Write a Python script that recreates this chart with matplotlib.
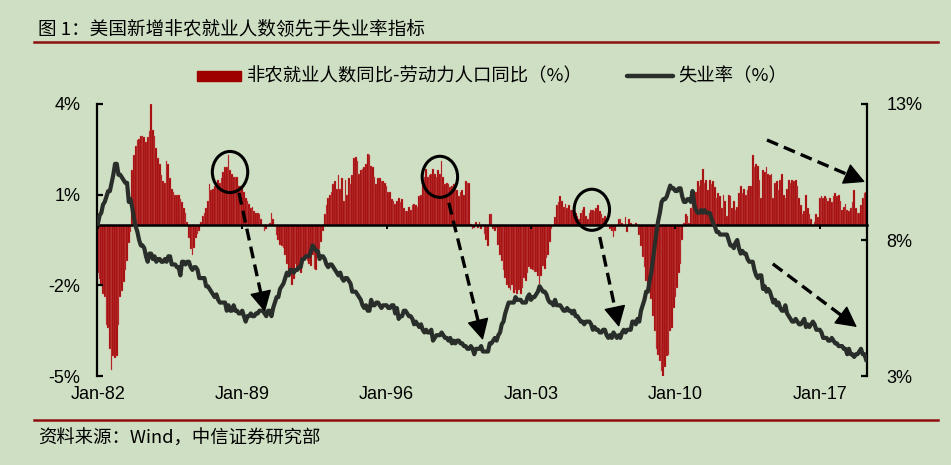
import numpy as np
import matplotlib
matplotlib.use("Agg")
import matplotlib.pyplot as plt
from matplotlib.patches import Ellipse, Rectangle
from matplotlib.lines import Line2D

# ---------------- data (monthly, Jan-1982 .. Apr-2019) ----------------
gap_yoy = [  # 非农就业人数同比 - 劳动力人口同比 (%)
    -1.6, -1.8, -1.95, -2.3, -2.4, -3.3, -3.4, -4.1, -4.8, -4.35, -4.4, -4.35,   # 1982
    -3.3, -2.4, -2.2, -1.9, -1.5, -1.2, -0.6, -0.25, 1.8, 2.3, 2.6, 2.8,          # 1983
    2.85, 2.95, 2.95, 2.9, 2.75, 2.9, 3.1, 4.0, 3.15, 2.95, 2.55, 2.2,            # 1984
    2.0, 1.65, 1.45, 1.4, 2.1, 2.0, 1.55, 1.2, 1.1, 1.0, 1.0, 1.0,                # 1985
    0.85, 0.75, 0.55, 0.4, 0.1, -0.45, -0.8, -1.0, -0.75, -0.45, -0.3, -0.2,      # 1986
    0.1, 0.3, 0.4, 0.55, 0.8, 1.35, 1.15, 1.2, 1.3, 1.4, 1.5, 1.4,                # 1987
    1.55, 1.75, 1.9, 1.9, 2.3, 1.8, 1.7, 1.6, 1.6, 1.6, 1.3, 1.3,                 # 1988
    1.25, 1.1, 0.9, 0.8, 0.7, 0.55, 0.6, 0.45, 0.4, 0.4, 0.35, 0.2,               # 1989
    -0.05, -0.2, -0.15, -0.05, 0.05, 0.4, 0.2, -0.05, -0.35, -0.5, -0.65, -0.7,   # 1990
    -0.75, -1.0, -1.3, -1.5, -1.65, -2.0, -1.8, -1.3, -1.45, -1.5, -1.6, -1.3,    # 1991
    -1.1, -1.1, -1.2, -1.3, -1.35, -1.0, -1.45, -1.5, -1.0, -0.8, -0.55, -0.2,    # 1992
    0.35, 0.65, 0.9, 1.0, 1.1, 1.35, 1.45, 1.2, 1.65, 1.2, 1.55, 0.8,             # 1993
    1.5, 1.0, 1.55, 1.35, 1.65, 2.2, 2.25, 2.1, 1.7, 1.8, 1.85, 1.9,              # 1994
    2.0, 2.35, 2.3, 1.95, 1.9, 1.6, 1.35, 1.55, 1.55, 1.45, 1.45, 1.4,            # 1995
    1.3, 1.1, 1.1, 0.85, 0.8, 0.7, 0.8, 0.9, 0.75, 0.85, 0.55, 0.45,              # 1996
    0.45, 0.6, 0.5, 0.65, 0.7, 0.65, 0.6, 0.95, 1.0, 1.45, 1.6, 1.85,             # 1997
    1.6, 1.65, 1.7, 1.85, 1.7, 1.6, 1.8, 1.7, 2.1, 1.6, 1.35, 1.4,                # 1998
    1.35, 1.25, 1.3, 1.35, 1.4, 1.15, 0.95, 1.1, 1.15, 1.0, 1.45, 1.4,            # 1999
    1.4, 0.02, -0.15, -0.1, 0.1, -0.1, 0.1, -0.15, -0.05, -0.3, -0.5, -0.7,       # 2000
    0.35, 0.35, -0.15, -0.2, -0.1, -0.65, -1.0, -1.2, -1.5, -1.75, -2.0, -2.1,    # 2001
    -2.15, -2.0, -2.25, -2.15, -2.3, -2.15, -2.3, -2.1, -1.75, -1.85, -1.6, -1.4, # 2002
    -1.45, -1.5, -1.55, -1.55, -1.7, -1.95, -1.7, -1.35, -1.45, -1.1, -1.0, -0.55,# 2003
    -0.15, 0.0, 0.25, 0.65, 0.75, 0.95, 0.8, 0.6, 0.7, 0.55, 0.65, 0.5,           # 2004
    0.5, 0.45, 0.4, 0.3, 0.2, 0.4, 0.5, 0.6, 0.3, 0.2, 0.4, 0.5,                  # 2005
    0.5, 0.45, 0.55, 0.65, 0.45, 0.35, 0.23, 0.28, 0.07, 0.0, -0.15, -0.2,        # 2006
    -0.4, -0.2, -0.05, 0.2, 0.18, 0.07, 0.0, 0.25, -0.25, 0.18, 0.07, 0.0,        # 2007
    0.0, 0.07, 0.0, -0.35, -0.7, -1.05, -1.4, -1.85, -1.95, -2.15, -2.45, -3.0,   # 2008
    -3.5, -4.1, -4.3, -4.5, -4.85, -5.05, -4.7, -4.35, -4.3, -3.5, -3.4, -2.75,   # 2009
    -2.4, -2.1, -1.6, -1.3, -0.5, 0.05, 0.35, 0.3, 0.05, 0.55, 0.85, 1.0,         # 2010
    1.1, 1.45, 1.3, 1.5, 1.85, 1.4, 1.5, 1.15, 1.5, 1.35, 1.45, 1.25,             # 2011
    0.9, 1.05, 0.95, 0.55, 1.0, 0.8, 0.3, 1.0, 0.95, 0.55, 0.8, 0.5,              # 2012
    0.6, 1.05, 1.3, 1.05, 1.2, 1.0, 1.15, 1.3, 1.3, 2.3, 1.9, 2.0,                # 2013
    1.95, 1.5, 0.9, 1.8, 1.75, 1.9, 1.7, 1.65, 1.7, 0.9, 1.4, 1.45,               # 2014
    1.15, 1.5, 1.7, 1.0, 0.9, 1.2, 1.5, 1.4, 1.5, 1.45, 1.5, 1.3,                 # 2015
    0.9, 0.65, 0.35, 0.45, 1.0, 0.55, 0.35, 0.2, 0.0, 0.1, 0.35, 0.25,            # 2016
    0.9, 0.95, 0.9, 0.95, 0.9, 0.8, 0.9, 0.75, 0.95, 1.05, 0.95, 1.0,             # 2017
    0.8, 0.5, 0.6, 0.7, 0.5, 0.45, 0.55, 0.75, 1.17, 0.55, 0.4, 0.4,              # 2018
    0.65, 0.9, 1.05, 1.1,                                                         # 2019
]

unemployment = [  # 失业率 (%)
    8.6, 8.9, 9.0, 9.3, 9.4, 9.6, 9.8, 9.8, 10.1, 10.4, 10.8, 10.8,   # 1982
    10.4, 10.4, 10.3, 10.2, 10.1, 10.1, 9.4, 9.5, 9.2, 8.8, 8.5, 8.3, # 1983
    8.0, 7.8, 7.8, 7.7, 7.4, 7.2, 7.5, 7.5, 7.3, 7.4, 7.2, 7.3,       # 1984
    7.3, 7.2, 7.2, 7.3, 7.2, 7.4, 7.4, 7.1, 7.1, 7.1, 7.0, 7.0,       # 1985
    6.7, 7.2, 7.2, 7.1, 7.2, 7.2, 7.0, 6.9, 7.0, 7.0, 6.9, 6.6,       # 1986
    6.6, 6.6, 6.6, 6.3, 6.3, 6.2, 6.1, 6.0, 5.9, 6.0, 5.8, 5.7,       # 1987
    5.7, 5.7, 5.7, 5.4, 5.6, 5.4, 5.4, 5.6, 5.4, 5.4, 5.3, 5.3,       # 1988
    5.4, 5.2, 5.0, 5.2, 5.2, 5.3, 5.2, 5.2, 5.3, 5.3, 5.4, 5.4,       # 1989
    5.4, 5.3, 5.2, 5.4, 5.4, 5.2, 5.5, 5.7, 5.9, 5.9, 6.2, 6.3,       # 1990
    6.4, 6.6, 6.8, 6.7, 6.9, 6.9, 6.8, 6.9, 6.9, 7.0, 7.0, 7.3,       # 1991
    7.3, 7.4, 7.4, 7.4, 7.6, 7.8, 7.7, 7.6, 7.6, 7.3, 7.4, 7.4,       # 1992
    7.3, 7.1, 7.0, 7.1, 7.1, 7.0, 6.9, 6.8, 6.7, 6.8, 6.6, 6.5,       # 1993
    6.6, 6.6, 6.5, 6.4, 6.1, 6.1, 6.1, 6.0, 5.9, 5.8, 5.6, 5.5,       # 1994
    5.6, 5.4, 5.4, 5.8, 5.6, 5.6, 5.7, 5.7, 5.6, 5.5, 5.6, 5.6,       # 1995
    5.6, 5.5, 5.5, 5.6, 5.6, 5.3, 5.5, 5.1, 5.2, 5.2, 5.4, 5.4,       # 1996
    5.3, 5.2, 5.2, 5.1, 4.9, 5.0, 4.9, 4.8, 4.9, 4.7, 4.6, 4.7,       # 1997
    4.6, 4.6, 4.7, 4.3, 4.4, 4.5, 4.5, 4.5, 4.6, 4.5, 4.4, 4.4,       # 1998
    4.3, 4.4, 4.2, 4.3, 4.2, 4.3, 4.3, 4.2, 4.2, 4.1, 4.1, 4.0,       # 1999
    4.0, 4.1, 4.0, 3.8, 4.0, 4.0, 4.0, 4.1, 3.9, 3.9, 3.9, 3.9,       # 2000
    4.2, 4.2, 4.3, 4.4, 4.3, 4.5, 4.6, 4.9, 5.0, 5.3, 5.5, 5.7,       # 2001
    5.7, 5.7, 5.7, 5.9, 5.8, 5.8, 5.8, 5.7, 5.7, 5.7, 5.9, 6.0,       # 2002
    5.8, 5.9, 5.9, 6.0, 6.1, 6.3, 6.2, 6.1, 6.1, 6.0, 5.8, 5.7,       # 2003
    5.7, 5.6, 5.8, 5.6, 5.6, 5.6, 5.5, 5.4, 5.4, 5.5, 5.4, 5.4,       # 2004
    5.3, 5.4, 5.2, 5.2, 5.1, 5.0, 5.0, 4.9, 5.0, 5.0, 5.0, 4.9,       # 2005
    4.7, 4.8, 4.7, 4.7, 4.6, 4.6, 4.7, 4.7, 4.5, 4.4, 4.5, 4.4,       # 2006
    4.6, 4.5, 4.4, 4.5, 4.4, 4.6, 4.7, 4.6, 4.7, 4.7, 4.7, 5.0,       # 2007
    5.0, 4.9, 5.1, 5.0, 5.4, 5.6, 5.8, 6.1, 6.1, 6.5, 6.8, 7.3,       # 2008
    7.8, 8.3, 8.7, 9.0, 9.4, 9.5, 9.5, 9.6, 9.8, 10.0, 9.9, 9.9,      # 2009
    9.8, 9.8, 9.9, 9.9, 9.6, 9.4, 9.4, 9.5, 9.5, 9.4, 9.8, 9.3,       # 2010
    9.1, 9.0, 9.0, 9.1, 9.0, 9.1, 9.0, 9.0, 9.0, 8.8, 8.6, 8.5,       # 2011
    8.3, 8.3, 8.2, 8.2, 8.2, 8.2, 8.2, 8.0, 7.8, 7.8, 7.7, 7.9,       # 2012
    8.0, 7.7, 7.5, 7.6, 7.5, 7.5, 7.3, 7.2, 7.2, 7.2, 6.9, 6.7,       # 2013
    6.6, 6.7, 6.7, 6.2, 6.3, 6.1, 6.2, 6.1, 5.9, 5.7, 5.8, 5.6,       # 2014
    5.7, 5.5, 5.4, 5.4, 5.6, 5.3, 5.2, 5.1, 5.0, 5.0, 5.1, 5.0,       # 2015
    4.9, 4.9, 5.0, 5.1, 4.8, 4.9, 4.8, 4.9, 5.0, 4.9, 4.7, 4.7,       # 2016
    4.7, 4.6, 4.4, 4.4, 4.4, 4.3, 4.3, 4.4, 4.3, 4.2, 4.2, 4.1,       # 2017
    4.1, 4.1, 4.0, 4.0, 3.8, 4.0, 3.8, 3.8, 3.7, 3.8, 3.8, 3.9,       # 2018
    4.0, 3.8, 3.8, 3.6,                                               # 2019
]

tick_months = [0, 84, 168, 252, 336, 420]
tick_labels = ["Jan-82", "Jan-89", "Jan-96", "Jan-03", "Jan-10", "Jan-17"]
left_ticks = [-5, -2, 1, 4]
right_ticks = [3, 8, 13]

title = "图 1：美国新增非农就业人数领先于失业率指标"
source = "资料来源：Wind，中信证券研究部"
bar_name = "非农就业人数同比-劳动力人口同比（%）"
line_name = "失业率（%）"

# annotations (month index, left-axis value)
circles = [(76.9, 1.75), (199.0, 1.59), (287.4, 0.50)]
arrows = [((82.1, 1.06), (97.2, -2.88)),
          ((204.2, 0.73), (224.0, -3.81)),
          ((292.0, -0.40), (303.2, -3.38)),
          ((389.3, 2.81), (446.3, 1.42)),
          ((392.7, -1.29), (441.6, -3.38))]

# ---------------- styling ----------------
BG = "#cedfc3"
RED = "#9e0000"
DARK = "#2a2e2a"
LINE_RED = "#8f1010"
LAT = ["Liberation Sans", "Noto Sans CJK SC"]
CJK = ["Noto Sans CJK SC", "Liberation Sans"]

W, H = 951, 465
fig = plt.figure(figsize=(W / 100, H / 100), dpi=100, facecolor=BG)

ax = fig.add_axes([97 / W, 1 - 376 / H, 770 / W, 272 / H])
ax.set_facecolor("none")
x = np.arange(len(gap_yoy))
ax.bar(x, gap_yoy, width=1.0, color=RED, edgecolor="#d47070", linewidth=0.25, zorder=1)
ax.set_xlim(-0.5, len(gap_yoy) - 0.5)
ax.set_ylim(-5, 4)
ax.set_yticks(left_ticks)
ax.set_yticklabels([f"{t}%" for t in left_ticks], family=LAT, fontsize=13)
ax.tick_params(axis="y", direction="in", length=4, width=1.6, pad=12, colors="black")

ax.spines["top"].set_visible(False)
ax.spines["right"].set_visible(False)
ax.spines["left"].set_linewidth(1.6)
ax.spines["bottom"].set_position(("data", 0))
ax.spines["bottom"].set_linewidth(1.8)
ax.spines["bottom"].set_zorder(3)
ax.set_xticks(tick_months)
ax.set_xticklabels([""] * len(tick_months))
ax.tick_params(axis="x", direction="out", length=3, width=1.4)

sec = ax.secondary_xaxis("bottom")
sec.set_xticks(tick_months)
sec.set_xticklabels(tick_labels, family=LAT, fontsize=13)
sec.tick_params(axis="x", length=0, pad=7)
sec.spines["bottom"].set_visible(False)

ax2 = ax.twinx()
ax2.plot(x, unemployment, color=DARK, lw=3.0, solid_joinstyle="round", zorder=3)
ax2.set_ylim(3, 13)
ax2.set_yticks(right_ticks)
ax2.set_yticklabels([f"{t}%" for t in right_ticks], family=LAT, fontsize=13)
ax2.tick_params(axis="y", direction="in", length=4, width=1.6, pad=14, colors="black")
for s in ["top", "bottom", "left"]:
    ax2.spines[s].set_visible(False)
ax2.spines["right"].set_linewidth(1.6)

# annotations: circles & dashed arrows (drawn on top)
for (cx, cy) in circles:
    e = Ellipse((cx, cy), width=20.6, height=1.36, fill=False, ec="black", lw=2.2,
                transform=ax.transData, zorder=10)
    ax2.add_patch(e)

HEAD_PX = 13.0
for (p0, p1) in arrows:
    d0 = ax.transData.transform(p0)
    d1 = ax.transData.transform(p1)
    L = np.hypot(*(d1 - d0))
    f = 1 - HEAD_PX / L
    pm = (p0[0] + f * (p1[0] - p0[0]), p0[1] + f * (p1[1] - p0[1]))
    ax2.plot([p0[0], pm[0]], [p0[1], pm[1]], transform=ax.transData, color="black",
             lw=2.4, linestyle=(0, (3.6, 1.9)), solid_capstyle="butt", zorder=10)
    ax2.annotate("", xy=p1, xytext=pm, xycoords=ax.transData, textcoords=ax.transData,
                 arrowprops=dict(arrowstyle="-|>,head_length=0.95,head_width=0.5",
                                 color="black", lw=1.0, shrinkA=0, shrinkB=0,
                                 mutation_scale=14),
                 zorder=11)

# title, rules, legend, source
fig.text(38 / W, 1 - 29 / H, title, family=CJK, fontsize=13.4, va="center", ha="left")
fig.add_artist(Line2D([34 / W, 938 / W], [1 - 42 / H] * 2, color=LINE_RED, lw=1.8))
fig.add_artist(Line2D([34 / W, 938 / W], [1 - 420 / H] * 2, color=LINE_RED, lw=1.8))
fig.text(38 / W, 1 - 439 / H, source, family=CJK, fontsize=13.2, va="center", ha="left")

fig.add_artist(Rectangle((197 / W, 1 - 81 / H), 44 / W, 10 / H, color=RED,
                         transform=fig.transFigure))
fig.text(247 / W, 1 - 76 / H, bar_name, family=CJK, fontsize=13.2, va="center", ha="left")
fig.add_artist(Line2D([627 / W, 673 / W], [1 - 76 / H] * 2, color=DARK, lw=3.2,
                      solid_capstyle="round"))
fig.text(678 / W, 1 - 76 / H, line_name, family=CJK, fontsize=13.2, va="center", ha="left")

fig.savefig("out.png", dpi=100, facecolor=BG)
